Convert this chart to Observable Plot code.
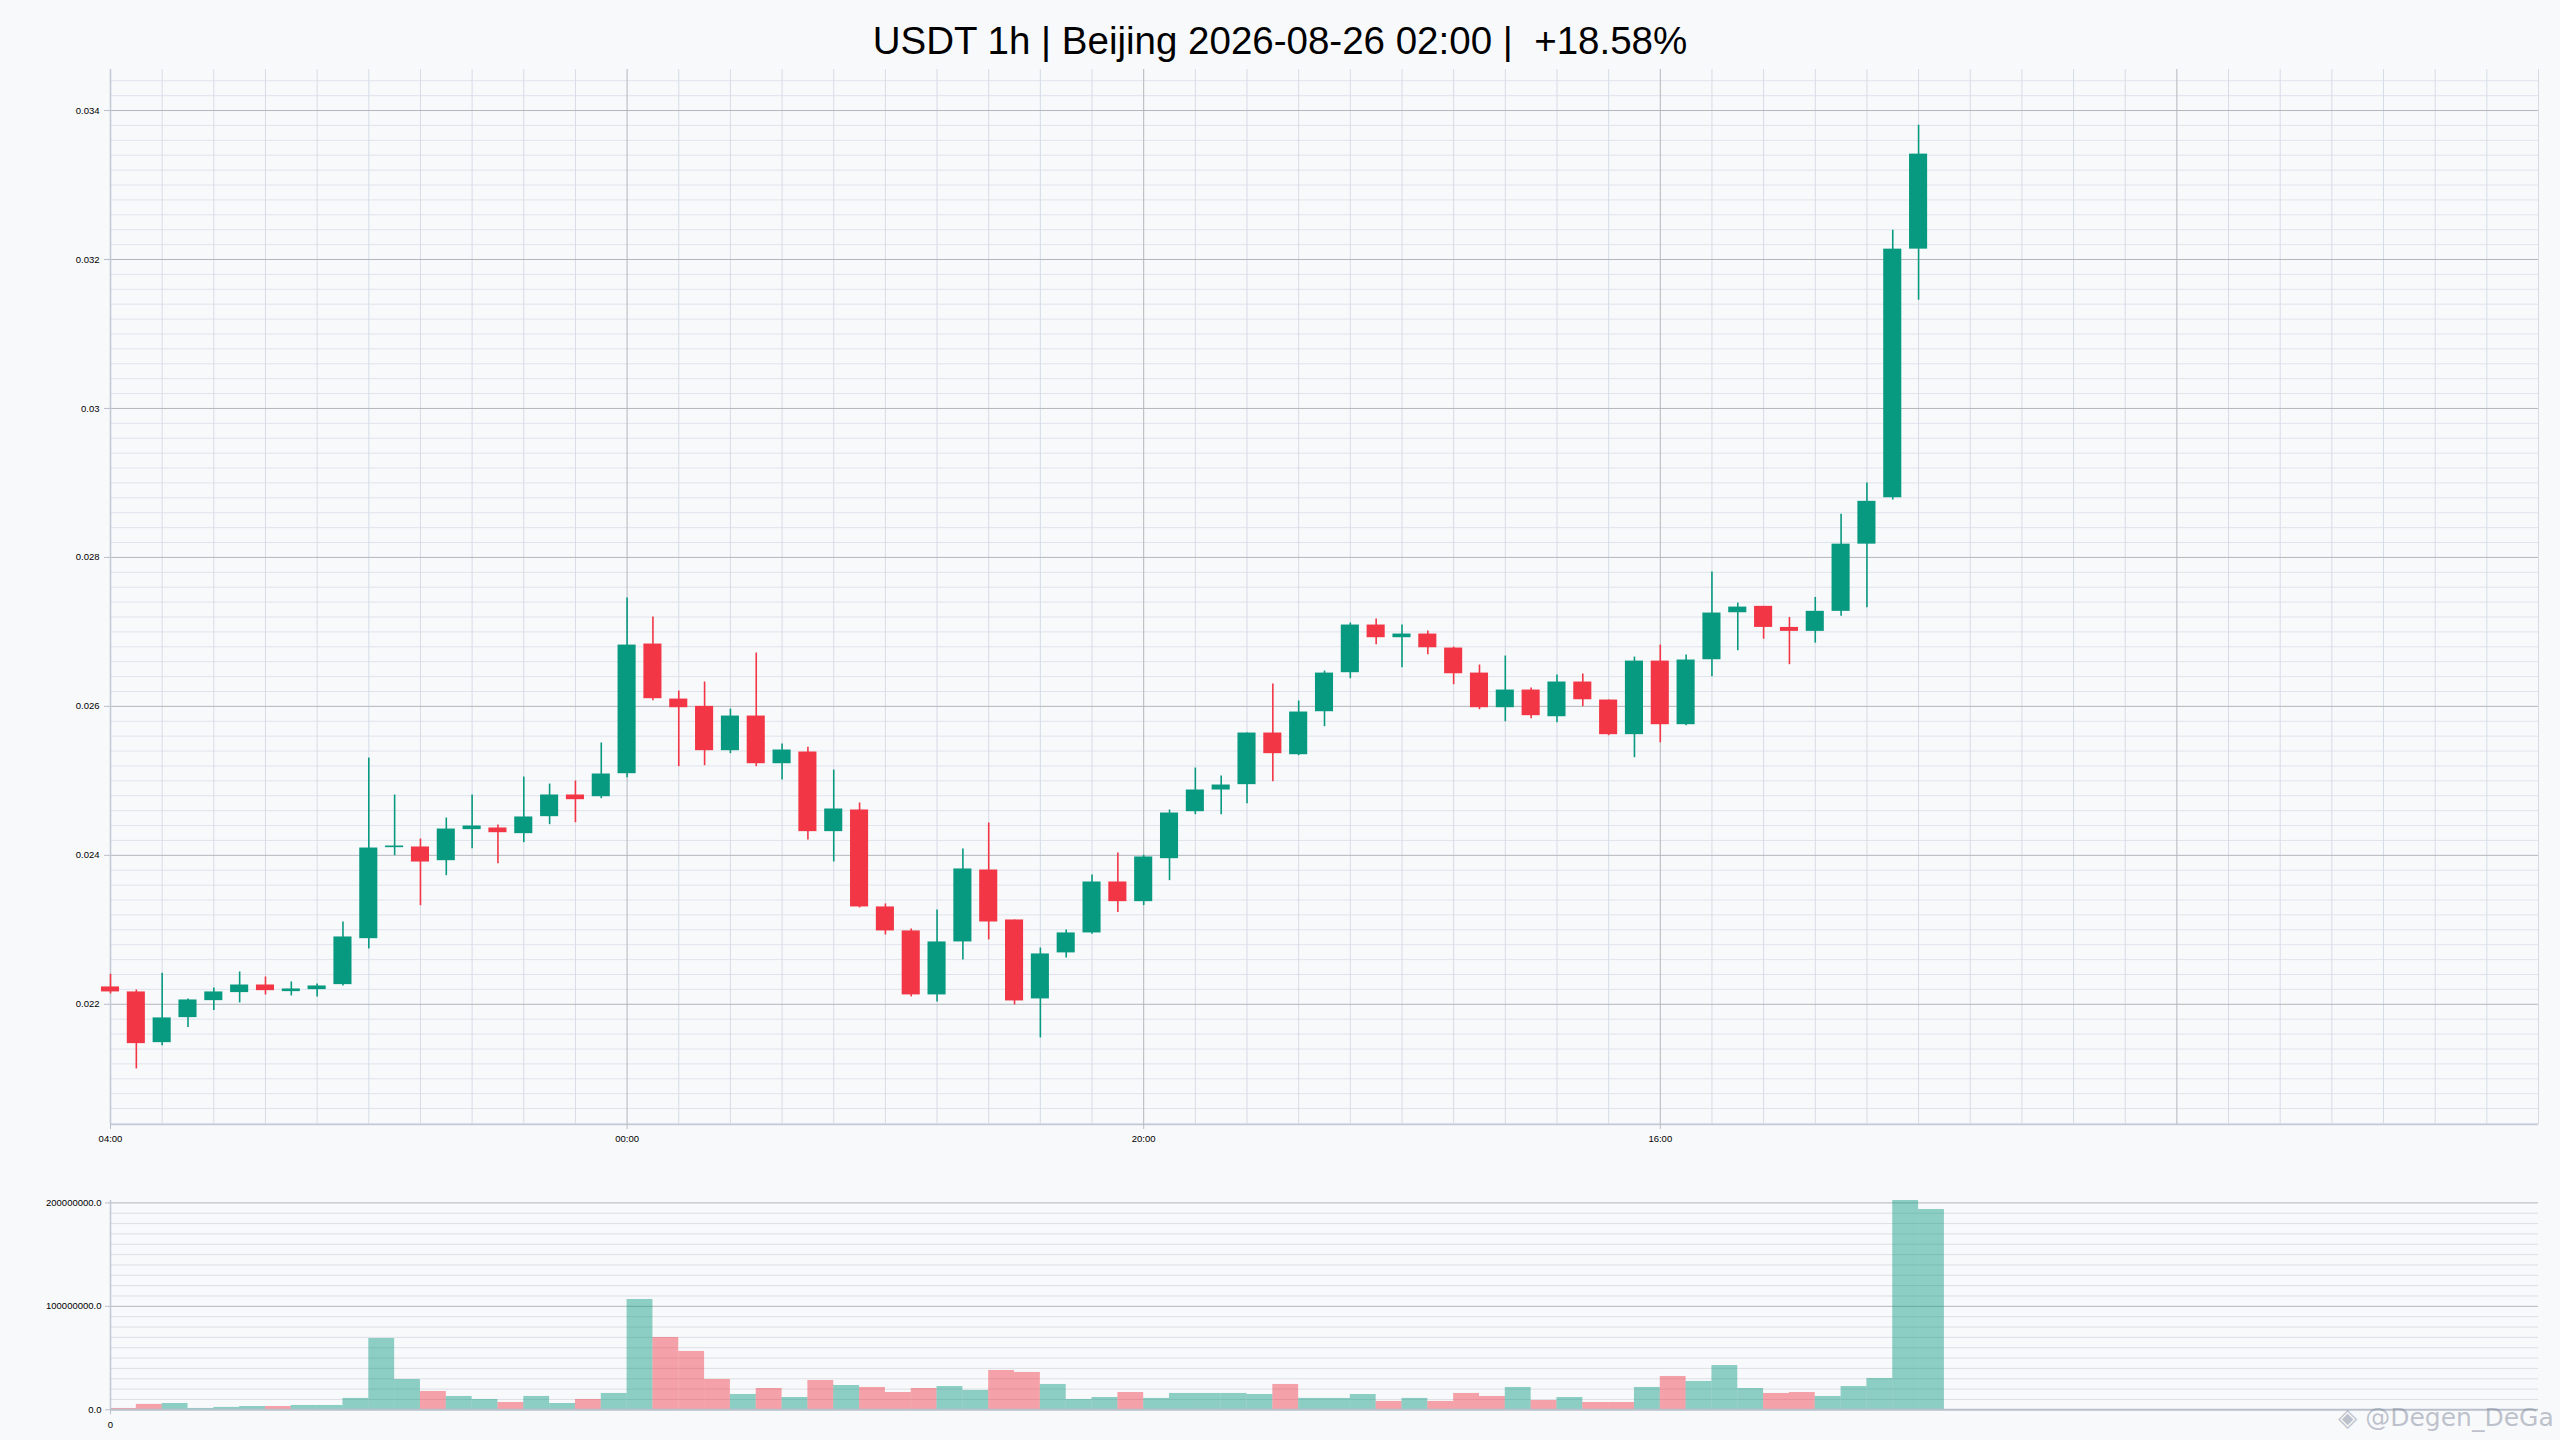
<!DOCTYPE html>
<html>
<head>
<meta charset="utf-8">
<script src="https://cdn.jsdelivr.net/npm/d3@7"></script>
<script src="https://cdn.jsdelivr.net/npm/@observablehq/plot@0.6"></script>
<style>
  html, body { margin: 0; padding: 0; background: #f8f9fb; overflow: hidden; }
  #wrap { position: relative; width: 2560px; height: 1440px; overflow: hidden; background: #f8f9fb; }
  #title { box-sizing: border-box; height: 69px; padding-top: 13px; display: flex; align-items: center; justify-content: center;
           font: 38.5px "Liberation Sans", Arial, sans-serif; color: #000; white-space: pre; }
  #main, #vol { display: block; line-height: 0; }
  #wm { position: absolute; left: 2338px; top: 1403px; font: 25px "DejaVu Sans", sans-serif; color: rgba(130,138,155,0.5); white-space: nowrap; }
</style>
</head>
<body>
<div id="wrap">
  <div id="title">USDT 1h | Beijing 2026-08-26 02:00 |  +18.58%</div>
  <div id="main"></div>
  <div id="vol"></div>
  <div id="wm">◈ @Degen_DeGa</div>
</div>
<script>
// ---- data (hourly candles, index 0 = 04:00) ----
const open  = [0.022233,0.022166,0.021485,0.021821,0.022049,0.022157,0.022259,0.022170,0.022197,0.022264,
               0.022881,0.024103,0.024112,0.023928,0.024345,0.024367,0.024291,0.024519,0.024810,0.024787,
               0.025096,0.026837,0.026098,0.026000,0.025405,0.025870,0.025230,0.025387,0.024318,0.024609,
               0.023307,0.022985,0.022126,0.022837,0.023803,0.023132,0.022072,0.022690,0.022958,0.023642,
               0.023378,0.023955,0.024586,0.024877,0.024949,0.025642,0.025351,0.025928,0.026452,0.027092,
               0.026922,0.026971,0.026783,0.026447,0.025982,0.026219,0.025861,0.026327,0.026085,0.025620,
               0.026608,0.025754,0.026626,0.027257,0.027343,0.027060,0.027007,0.027276,0.028178,0.028801,
               0.032139];
const high  = [0.022403,0.022192,0.022416,0.022072,0.022219,0.022434,0.022367,0.022300,0.022273,0.023105,
               0.025306,0.024810,0.024219,0.024501,0.024810,0.024407,0.025051,0.024957,0.024998,0.025508,
               0.027454,0.027199,0.026206,0.026327,0.025964,0.026716,0.025494,0.025450,0.025145,0.024703,
               0.023347,0.023011,0.023266,0.024085,0.024434,0.023132,0.022756,0.022998,0.023736,0.024031,
               0.024000,0.024609,0.025172,0.025065,0.025642,0.026300,0.026072,0.026474,0.027119,0.027172,
               0.027092,0.027011,0.026796,0.026555,0.026676,0.026246,0.026421,0.026434,0.026085,0.026662,
               0.026823,0.026689,0.027803,0.027387,0.027343,0.027194,0.027463,0.028581,0.028998,0.032393,
               0.033803];
const low   = [0.022139,0.021132,0.021445,0.021687,0.021915,0.022018,0.022125,0.022112,0.022098,0.022246,
               0.022743,0.023996,0.023324,0.023727,0.024089,0.023888,0.024170,0.024412,0.024438,0.024761,
               0.025042,0.026076,0.025190,0.025204,0.025365,0.025190,0.025011,0.024206,0.023911,0.023293,
               0.022931,0.022099,0.022032,0.022595,0.022864,0.021991,0.021548,0.022622,0.022940,0.023231,
               0.023325,0.023660,0.024546,0.024546,0.024694,0.024989,0.025338,0.025727,0.026371,0.026828,
               0.026519,0.026693,0.026291,0.025955,0.025794,0.025834,0.025781,0.025996,0.025606,0.025311,
               0.025512,0.025741,0.026398,0.026747,0.026902,0.026560,0.026849,0.027209,0.027324,0.028772,
               0.031453];
const close = [0.022166,0.021472,0.021817,0.022058,0.022166,0.022259,0.022183,0.022206,0.022246,0.022904,
               0.024098,0.024125,0.023910,0.024353,0.024394,0.024304,0.024515,0.024810,0.024747,0.025092,
               0.026823,0.026103,0.025982,0.025405,0.025870,0.025230,0.025414,0.024318,0.024622,0.023307,
               0.022985,0.022126,0.022837,0.023817,0.023105,0.022045,0.022676,0.022958,0.023642,0.023378,
               0.023978,0.024568,0.024877,0.024944,0.025642,0.025365,0.025924,0.026447,0.027092,0.026922,
               0.026971,0.026787,0.026438,0.025982,0.026219,0.025875,0.026327,0.026089,0.025620,0.026608,
               0.025754,0.026622,0.027253,0.027333,0.027060,0.027007,0.027276,0.028178,0.028753,0.032139,
               0.033415];
const volume = [1.3e6,5.2e6,6.1e6,1.3e6,2.3e6,3.2e6,3.2e6,4.2e6,4.2e6,11.0e6,
                68.9e6,29.3e6,17.7e6,12.9e6,10.0e6,7.1e6,12.9e6,6.1e6,10.0e6,15.8e6,
                106.6e6,69.9e6,56.4e6,29.3e6,14.8e6,20.6e6,11.9e6,28.3e6,23.5e6,21.6e6,
                16.7e6,20.6e6,22.5e6,18.7e6,38.0e6,36.1e6,24.5e6,10.0e6,11.9e6,16.7e6,
                11.0e6,15.8e6,15.8e6,15.8e6,14.8e6,24.5e6,11.0e6,11.0e6,14.8e6,8.1e6,
                11.0e6,8.1e6,15.8e6,12.9e6,21.6e6,9.0e6,11.9e6,7.1e6,7.1e6,21.6e6,
                32.2e6,27.4e6,42.8e6,20.6e6,15.8e6,16.7e6,12.9e6,22.5e6,30.3e6,202.3e6,
                193.6e6];

// ---- axis ticks / labels ----
const xTickHours  = [0, 20, 40, 60];
const xTickLabels = ["04:00", "00:00", "20:00", "16:00"];
const xMajorGrid  = [0, 20, 40, 60, 80];
const yTicks      = [0.022, 0.024, 0.026, 0.028, 0.030, 0.032, 0.034];
const yTickLabels = ["0.022", "0.024", "0.026", "0.028", "0.03", "0.032", "0.034"];
const volTicks      = [0, 100000000, 200000000];
const volTickLabels = ["0.0", "100000000.0", "200000000.0"];

// ---- styling constants ----
const GREEN = "#089981", RED = "#f23645";
const FONT = "Liberation Sans, Arial, sans-serif";
const X_DOMAIN = [0, 94];
const Y_DOMAIN = [0.020386, 0.034551];
const V_DOMAIN = [0, 202.3e6];

const candles = open.map((o, i) => ({
  i, open: o, high: high[i], low: low[i], close: close[i], volume: volume[i],
  color: close[i] >= o ? GREEN : RED
}));

const xMinorGrid = d3.range(0, 95, 2).filter(h => !xMajorGrid.includes(h));
const yMinorGrid = d3.range(0, 72).map(k => +(0.0204 + k * 0.0002).toFixed(4))
                     .filter(v => v <= Y_DOMAIN[1] && !yTicks.some(t => Math.abs(t - v) < 1e-9));
const vMinorGrid = d3.range(1, 21).map(k => k * 10e6).filter(v => v % 100e6 !== 0);

const yLabelOf = new Map(yTicks.map((t, k) => [t, yTickLabels[k]]));
const xLabelOf = new Map(xTickHours.map((t, k) => [t, xTickLabels[k]]));
const vLabelOf = new Map(volTicks.map((t, k) => [t, volTickLabels[k]]));

const mainPlot = Plot.plot({
  width: 2560, height: 1091,
  marginLeft: 110, marginRight: 22, marginTop: 0, marginBottom: 36,
  style: { background: "transparent", fontFamily: FONT, fontSize: "9.5px", color: "#000" },
  x: { domain: X_DOMAIN, axis: null, label: null },
  y: { domain: Y_DOMAIN, axis: null, label: null },
  color: { type: "identity" },
  marks: [
    Plot.ruleY(yMinorGrid, { stroke: "#dfe4ec", strokeWidth: 1 }),
    Plot.ruleX(xMinorGrid, { stroke: "#d6dce6", strokeWidth: 1 }),
    Plot.ruleY(yTicks, { stroke: "#b3b6bc", strokeWidth: 1 }),
    Plot.ruleX(xMajorGrid, { stroke: "#b3b6bc", strokeWidth: 1 }),
    Plot.ruleX([0], { stroke: "#c3cad5", strokeWidth: 1.6 }),
    Plot.ruleY([Y_DOMAIN[0]], { stroke: "#c3cad5", strokeWidth: 1.6 }),
    Plot.axisY(yTicks, { label: null, tickFormat: d => yLabelOf.get(d), tickSize: 6, tickPadding: 5, stroke: "#b8bec8", fill: "#000", fontSize: 9.5 }),
    Plot.axisX(xTickHours, { label: null, anchor: "bottom", tickFormat: d => xLabelOf.get(d), tickSize: 5, tickPadding: 6, stroke: "#b8bec8", fill: "#000", fontSize: 9.5 }),
    Plot.ruleX(candles, { x: "i", y1: "low", y2: "high", stroke: "color", strokeWidth: 1.6 }),
    Plot.rect(candles, { x1: d => d.i - 0.35, x2: d => d.i + 0.35, y1: "open", y2: "close", fill: "color" })
  ]
});
document.getElementById("main").appendChild(mainPlot);

const volPlot = Plot.plot({
  width: 2560, height: 280,
  marginLeft: 110, marginRight: 22, marginTop: 40, marginBottom: 30.7,
  style: { background: "transparent", fontFamily: FONT, fontSize: "9.5px", color: "#000" },
  x: { domain: X_DOMAIN, axis: null, label: null },
  y: { domain: V_DOMAIN, axis: null, label: null },
  color: { type: "identity" },
  marks: [
    Plot.ruleY(vMinorGrid, { stroke: "#dcdfe4", strokeWidth: 1 }),
    Plot.ruleY(volTicks.filter(v => v > 0), { stroke: "#b3b6bc", strokeWidth: 1 }),
    Plot.rectY(candles, { x1: "i", x2: d => d.i + 1, y1: 0, y2: "volume", fill: "color", fillOpacity: 0.45 }),
    Plot.ruleX([0], { stroke: "#c3cad5", strokeWidth: 1.6 }),
    Plot.ruleY([0], { stroke: "#b9c0cc", strokeWidth: 2 }),
    Plot.axisY(volTicks, { label: null, tickFormat: d => vLabelOf.get(d), tickSize: 5, tickPadding: 4, stroke: "#b8bec8", fill: "#000", fontSize: 9.5 }),
    Plot.axisX([0], { label: null, anchor: "bottom", tickFormat: () => "0", tickSize: 5, tickPadding: 6, stroke: "#b8bec8", fill: "#000", fontSize: 9.5 })
  ]
});
document.getElementById("vol").appendChild(volPlot);
</script>
</body>
</html>
